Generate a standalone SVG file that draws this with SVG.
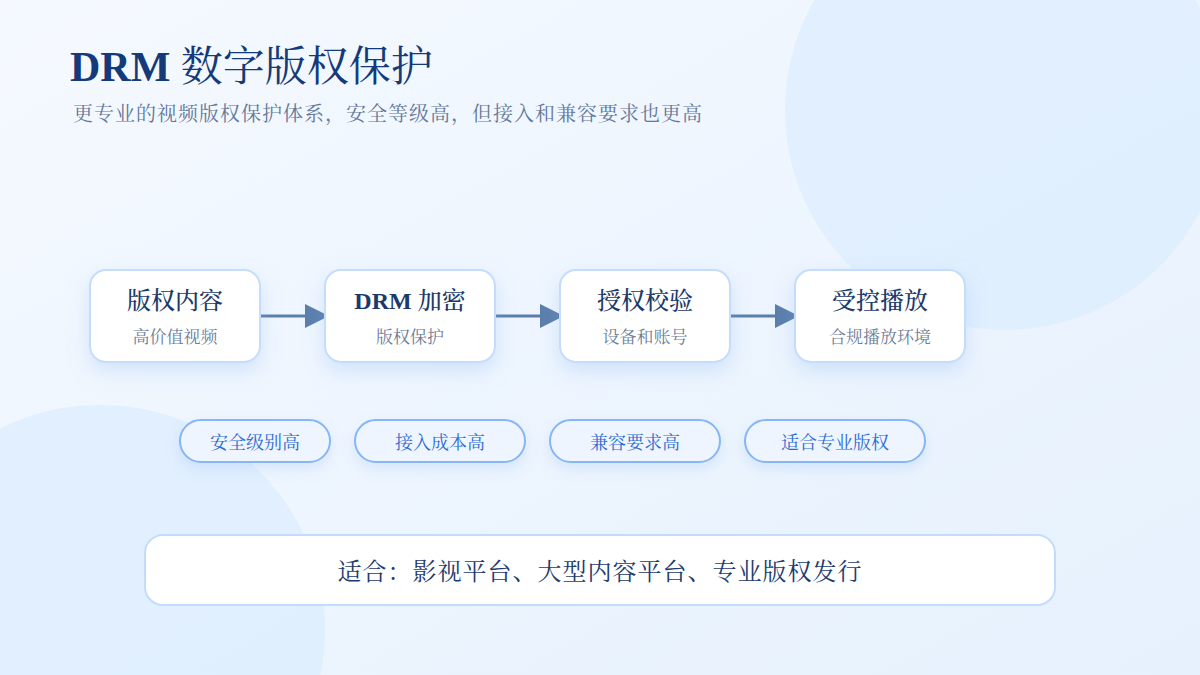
<svg xmlns="http://www.w3.org/2000/svg" width="1200" height="675" viewBox="0 0 1200 675">
<defs>
<linearGradient id="bg" x1="0" y1="0" x2="1" y2="1">
<stop offset="0" stop-color="#f5f9ff"/>
<stop offset="1" stop-color="#e6f1fd"/>
</linearGradient>
<filter id="sh" x="-30%" y="-40%" width="160%" height="190%">
<feDropShadow dx="0" dy="8" stdDeviation="10" flood-color="#7fb0f0" flood-opacity="0.28"/>
</filter>
<filter id="sh2" x="-30%" y="-60%" width="160%" height="230%">
<feDropShadow dx="0" dy="6" stdDeviation="7" flood-color="#7fb0f0" flood-opacity="0.22"/>
</filter>
<marker id="ah" markerWidth="24" markerHeight="24" refX="0" refY="12" orient="auto" markerUnits="userSpaceOnUse">
<path d="M0,0 L24,12 L0,24 Z" fill="#5b7eab"/>
</marker>
<style>
text{font-family:"Liberation Serif","Noto Serif CJK SC","Noto Sans CJK SC",serif}
.box{fill:#ffffff;stroke:#c6dcfb;stroke-width:2;filter:url(#sh)}
.nt{font-size:24px;font-weight:500;fill:#1b3a6b;text-anchor:middle}
.b{font-weight:bold}
.ns{font-size:17px;fill:#6b7d98;text-anchor:middle}
.pill{fill:#eef5ff;stroke:#86b6f5;stroke-width:2;filter:url(#sh2)}
.pt{font-size:18px;fill:#2d6bd3;text-anchor:middle}
.conn{stroke:#5b7eab;stroke-width:3;fill:none}
</style>
</defs>
<rect width="1200" height="675" fill="url(#bg)"/>
<circle cx="1005" cy="110" r="220" fill="#dcecfd" opacity="0.7"/>
<circle cx="100" cy="630" r="225" fill="#dcecfd" opacity="0.7"/>
<g id="title">
<text x="70" y="81" style="font-size:42px;fill:#143a7a"><tspan class="b">DRM</tspan> 数字版权保护</text>
<text x="73" y="121" style="font-size:20px;fill:#64789a;letter-spacing:1px">更专业的视频版权保护体系，安全等级高，但接入和兼容要求也更高</text>
</g>
<g id="connectors">
<line class="conn" x1="260" y1="316" x2="305" y2="316" marker-end="url(#ah)"/>
<line class="conn" x1="495" y1="316" x2="540" y2="316" marker-end="url(#ah)"/>
<line class="conn" x1="730" y1="316" x2="775" y2="316" marker-end="url(#ah)"/>
</g>
<g id="node1">
<rect class="box" x="90" y="270" width="170" height="92" rx="16"/>
<text class="nt" x="175" y="309">版权内容</text>
<text class="ns" x="175" y="343">高价值视频</text>
</g>
<g id="node2">
<rect class="box" x="325" y="270" width="170" height="92" rx="16"/>
<text class="nt" x="410" y="309"><tspan class="b">DRM</tspan> 加密</text>
<text class="ns" x="410" y="343">版权保护</text>
</g>
<g id="node3">
<rect class="box" x="560" y="270" width="170" height="92" rx="16"/>
<text class="nt" x="645" y="309">授权校验</text>
<text class="ns" x="645" y="343">设备和账号</text>
</g>
<g id="node4">
<rect class="box" x="795" y="270" width="170" height="92" rx="16"/>
<text class="nt" x="880" y="309">受控播放</text>
<text class="ns" x="880" y="343">合规播放环境</text>
</g>
<g id="tag1">
<rect class="pill" x="180" y="420" width="150" height="42" rx="21"/>
<text class="pt" x="255" y="449">安全级别高</text>
</g>
<g id="tag2">
<rect class="pill" x="355" y="420" width="170" height="42" rx="21"/>
<text class="pt" x="440" y="449">接入成本高</text>
</g>
<g id="tag3">
<rect class="pill" x="550" y="420" width="170" height="42" rx="21"/>
<text class="pt" x="635" y="449">兼容要求高</text>
</g>
<g id="tag4">
<rect class="pill" x="745" y="420" width="180" height="42" rx="21"/>
<text class="pt" x="835" y="449">适合专业版权</text>
</g>
<g id="summary">
<rect x="145" y="535" width="910" height="70" rx="18" fill="#ffffff" stroke="#c4dcfb" stroke-width="2"/>
<text x="600" y="580" style="font-size:24px;fill:#1d3b6e;text-anchor:middle;letter-spacing:1px">适合：影视平台、大型内容平台、专业版权发行</text>
</g>
</svg>
